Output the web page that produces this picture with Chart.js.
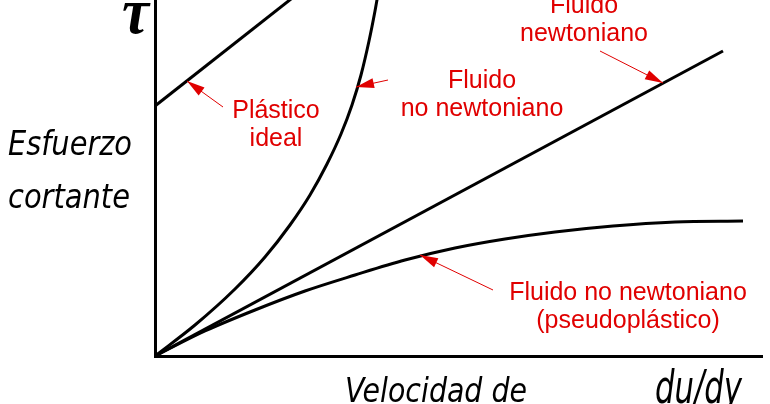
<!DOCTYPE html>
<html>
<head>
<meta charset="utf-8">
<script src="https://cdn.jsdelivr.net/npm/chart.js@4"></script>
<style>
  html, body { margin: 0; padding: 0; background: #fff; }
  #wrap { width: 770px; height: 404px; }
</style>
</head>
<body>
<div id="wrap"><canvas id="chart" width="770" height="404"></canvas></div>
<script>
// shear rate (x) vs shear stress (y), arbitrary units
const plasticX = [0, 150];
const plasticY = [250, 368];

const dilatantX = [0, 40, 80, 110, 135, 155, 172, 186, 197, 206, 214, 220, 223];
const dilatantY = [0, 31, 67, 99, 131, 161, 192, 222, 251, 281, 315, 345, 362];

const newtonX = [0, 568];
const newtonY = [0, 305];

const pseudoX = [0, 50, 100, 150, 200, 250, 300, 350, 400, 458, 520, 588];
const pseudoY = [0, 25, 46, 65, 81, 96, 108, 117, 124, 130, 134, 135];

const xMax = 607;
const yMax = 356;

const RED = '#e00000';

// red callouts: label lines + arrow (tail -> tip), in axis units
const callouts = [
    { lines: ['Plástico', 'ideal'], x: 121, y: 238, tail: [68, 249], tip: [32, 275] },
    { lines: ['Fluido', 'no newtoniano'], x: 327, y: 268, tail: [233, 276], tip: [201, 269] },
    { lines: ['Fluido', 'newtoniano'], x: 429, y: 343, tail: [445, 305], tip: [508, 273] },
    { lines: ['Fluido no newtoniano', '(pseudoplástico)'], x: 473, y: 56, tail: [338, 66], tip: [265, 101] }
];

const toPoints = (xs, ys) => xs.map((x, i) => ({ x, y: ys[i] }));

const curve = (data, smooth) => ({
    data,
    borderColor: '#000',
    borderWidth: 3,
    pointRadius: 0,
    tension: smooth ? 0.4 : 0,
    cubicInterpolationMode: smooth ? 'monotone' : 'default',
    fill: false
});

const drawArrow = (ctx, x1, y1, x2, y2) => {
    const ang = Math.atan2(y2 - y1, x2 - x1);
    const len = 18, half = 5;
    ctx.strokeStyle = RED;
    ctx.fillStyle = RED;
    ctx.lineWidth = 1;
    ctx.beginPath();
    ctx.moveTo(x1, y1);
    ctx.lineTo(x2, y2);
    ctx.stroke();
    ctx.beginPath();
    ctx.moveTo(x2, y2);
    ctx.lineTo(x2 - len * Math.cos(ang) + half * Math.sin(ang), y2 - len * Math.sin(ang) - half * Math.cos(ang));
    ctx.lineTo(x2 - len * Math.cos(ang) - half * Math.sin(ang), y2 - len * Math.sin(ang) + half * Math.cos(ang));
    ctx.closePath();
    ctx.fill();
};

// draw text squeezed/stretched to a given width
const fitText = (ctx, text, x, y, width) => {
    const w = ctx.measureText(text).width;
    ctx.save();
    ctx.translate(x, y);
    ctx.scale(width / w, 1);
    ctx.fillText(text, 0, 0);
    ctx.restore();
};

const annotations = {
    id: 'annotations',
    afterDatasetsDraw(chart) {
        const { ctx, chartArea } = chart;
        const xs = chart.scales.x, ys = chart.scales.y;
        ctx.save();

        callouts.forEach(c => {
            drawArrow(ctx, xs.getPixelForValue(c.tail[0]), ys.getPixelForValue(c.tail[1]),
                xs.getPixelForValue(c.tip[0]), ys.getPixelForValue(c.tip[1]));
            ctx.fillStyle = RED;
            ctx.font = '25px "Liberation Sans", Arial, sans-serif';
            ctx.textAlign = 'center';
            ctx.textBaseline = 'alphabetic';
            c.lines.forEach((t, i) => {
                ctx.fillText(t, xs.getPixelForValue(c.x), ys.getPixelForValue(c.y) + i * 28);
            });
        });

        // axis names
        ctx.fillStyle = '#000';
        ctx.textAlign = 'left';
        ctx.font = 'italic 34px "Liberation Sans Narrow", "DejaVu Sans Condensed", sans-serif';
        fitText(ctx, 'Esfuerzo', 8, 155, 124);
        fitText(ctx, 'cortante', 8, 208, 122);
        fitText(ctx, 'Velocidad de', 345, chartArea.bottom + 46, 182);
        ctx.font = 'italic 46px "Liberation Sans Narrow", "DejaVu Sans Condensed", sans-serif';
        fitText(ctx, 'du/dy', 655, chartArea.bottom + 47, 87);
        ctx.font = 'bold italic 66px "Liberation Serif", "DejaVu Serif", serif';
        fitText(ctx, 'τ', chartArea.left - 33, 33, 27);

        ctx.restore();
    }
};

new Chart(document.getElementById('chart'), {
    type: 'line',
    data: {
        datasets: [
            curve(toPoints(plasticX, plasticY), false),
            curve(toPoints(dilatantX, dilatantY), true),
            curve(toPoints(newtonX, newtonY), false),
            curve(toPoints(pseudoX, pseudoY), true)
        ]
    },
    options: {
        responsive: false,
        devicePixelRatio: 1,
        animation: false,
        layout: { padding: { left: 155, right: 8, top: 0, bottom: 48 } },
        plugins: { legend: { display: false }, tooltip: { enabled: false } },
        scales: {
            x: {
                type: 'linear', min: 0, max: xMax,
                ticks: { display: false },
                grid: { display: false, drawTicks: false },
                border: { display: true, color: '#000', width: 3 }
            },
            y: {
                type: 'linear', min: 0, max: yMax,
                ticks: { display: false },
                grid: { display: false, drawTicks: false },
                border: { display: true, color: '#000', width: 3 }
            }
        }
    },
    plugins: [annotations]
});
</script>
</body>
</html>
